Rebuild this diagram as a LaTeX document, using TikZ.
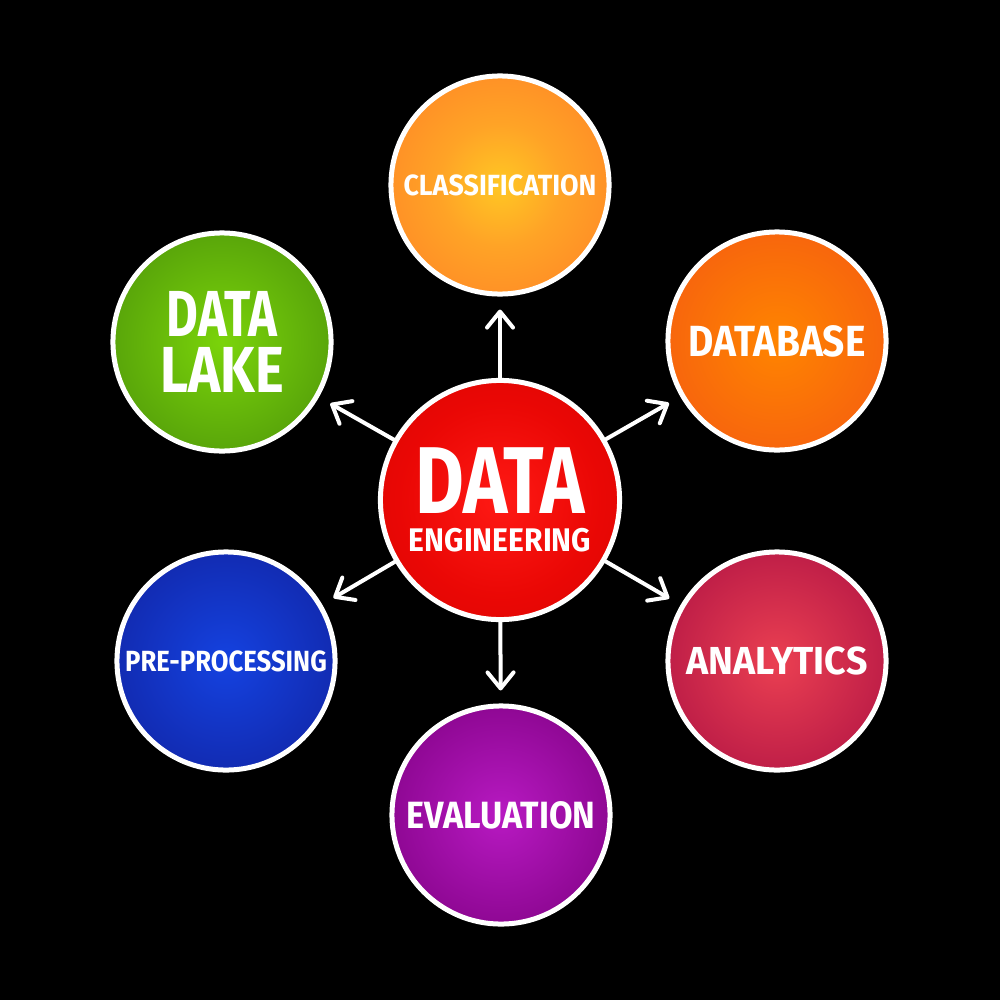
\documentclass[tikz,border=0pt]{standalone}
\usepackage{fontspec}
\setmainfont{Fira Sans}
\usepackage{graphicx}
\usetikzlibrary{arrows.meta}
\pgfdeclareradialshading{shCenter}{\pgfpoint{0bp}{0bp}}{rgb(0bp)=(1,0.10,0.08); rgb(20bp)=(0.92,0.03,0.02); rgb(50bp)=(0.80,0,0)}
\pgfdeclareradialshading{shCls}{\pgfpoint{0bp}{0bp}}{rgb(0bp)=(1,0.78,0.14); rgb(14bp)=(1,0.64,0.15); rgb(30bp)=(1,0.54,0.15); rgb(50bp)=(1,0.47,0.14)}
\pgfdeclareradialshading{shDb}{\pgfpoint{0bp}{0bp}}{rgb(0bp)=(1,0.52,0.0); rgb(25bp)=(0.97,0.40,0.05); rgb(50bp)=(0.88,0.27,0.08)}
\pgfdeclareradialshading{shAn}{\pgfpoint{0bp}{0bp}}{rgb(0bp)=(0.92,0.25,0.32); rgb(25bp)=(0.75,0.12,0.28); rgb(50bp)=(0.55,0.04,0.23)}
\pgfdeclareradialshading{shEv}{\pgfpoint{0bp}{0bp}}{rgb(0bp)=(0.72,0.10,0.76); rgb(25bp)=(0.56,0.03,0.58); rgb(50bp)=(0.40,0,0.44)}
\pgfdeclareradialshading{shPre}{\pgfpoint{0bp}{0bp}}{rgb(0bp)=(0.08,0.26,0.88); rgb(25bp)=(0.07,0.17,0.70); rgb(50bp)=(0.07,0.08,0.55)}
\pgfdeclareradialshading{shLake}{\pgfpoint{0bp}{0bp}}{rgb(0bp)=(0.48,0.83,0.04); rgb(25bp)=(0.35,0.65,0.04); rgb(50bp)=(0.24,0.51,0.04)}
\newcommand\mytxt[3]{{\fontsize{#1}{#1}\selectfont\scalebox{#2}[1]{#3}}}
\begin{document}
\begin{tikzpicture}[x=0.01cm,y=-0.01cm,
  ball/.style={circle, draw=white, line width=0.05cm, minimum size=2.18cm,
    inner sep=0pt, text=white, font=\bfseries, align=center},
  arr/.style={draw=white, line width=0.04cm, line cap=round,
    -{Straight Barb[length=0.16cm,width=0.26cm,round]}, shorten >=0.13cm}]
\useasboundingbox (0,0) rectangle (1000,1000);
\fill[black] (0,0) rectangle (1000,1000);
\node[ball, minimum size=2.39cm, shading=shCenter, font=\bfseries\fontsize{10}{10.8}\selectfont] (c) at (500,500)
  {\mytxt{27}{0.79}{DATA}\\\mytxt{9.3}{0.92}{ENGINEERING}};
\node[ball, shading=shCls] (cls) at (500,185) {\mytxt{8.3}{0.92}{CLASSIFICATION}};
\node[ball, shading=shDb] (db) at (777,341) {\mytxt{12.4}{0.89}{DATABASE}};
\node[ball, shading=shAn] (an) at (777,661) {\mytxt{11.1}{0.96}{ANALYTICS}};
\node[ball, shading=shEv] (ev) at (501,815) {\mytxt{10.8}{0.90}{EVALUATION}};
\node[ball, shading=shPre] (pre) at (226,661) {\mytxt{8.3}{0.88}{PRE-PROCESSING}};
\node[ball, shading=shLake, font=\bfseries\fontsize{18.5}{16}\selectfont] (lake) at (222,342)
  {\mytxt{18.5}{0.75}{DATA}\\\mytxt{18.5}{0.84}{LAKE}};
\foreach \t in {cls,db,an,ev,pre,lake}{\draw[arr] (c) -- (\t);}
\end{tikzpicture}
\end{document}
